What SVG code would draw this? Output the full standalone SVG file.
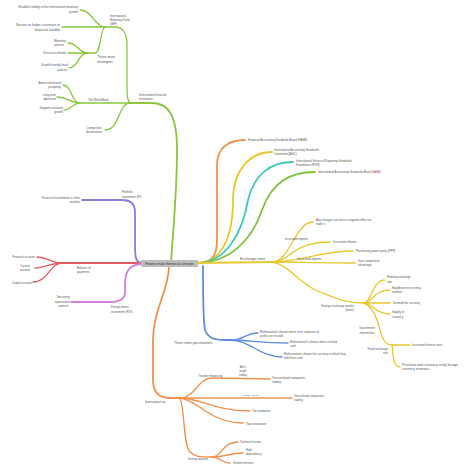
<svg xmlns="http://www.w3.org/2000/svg" width="474" height="472" viewBox="0 0 474 472">
<style>
.t{font-family:"Liberation Sans",Arial,sans-serif;font-size:2.9px;fill:#555}
.b{font-size:3.6px}
.e{text-anchor:end}
.m{text-anchor:middle}
.l{fill:none;stroke-linecap:round;stroke-linejoin:round}
.w1{stroke-width:1.8}
.w2{stroke-width:1.3}
.g{stroke:#8cc63f}.o{stroke:#f0914f}.y{stroke:#e6c930}.c{stroke:#3fc9b6}.bl{stroke:#5b8de0}.p{stroke:#8c7ae0}.r{stroke:#e25c62}.k{stroke:#d67fdc}.g2{stroke:#7fc241}
</style>
<rect width="474" height="472" fill="#fff"/>
<g id="connectors">
<!-- green IFI -->
<path class="l w1 g" d="M171,262 C174,220 177,190 177,150 C177,118 170,103 152,103 L130,103"/>
<path class="l w2 g" d="M130,103 L80,103"/>
<path class="l w2 g" d="M80,103 C71,103 72,85 63,85"/>
<path class="l w2 g" d="M80,103 C70,103 68,97 57,97"/>
<path class="l w2 g" d="M80,103 C72,103 72,110 64,110"/>
<path class="l w2 g" d="M130,103 C118,103 120,130 105,130"/>
<path class="l w2 g" d="M130,103 C127,100 127,95 127,85 L127,45 C127,32 122,27 115,27 L105,27"/>
<path class="l w2 g" d="M105,27 C95,27 92,10 80,10"/>
<path class="l w2 g" d="M105,27 L62,27"/>
<path class="l w2 g" d="M105,27 C100,29 101,53 95,53 L88,53"/>
<path class="l w2 g" d="M88,53 C78,53 78,43 68,43"/>
<path class="l w2 g" d="M88,53 L68,53"/>
<path class="l w2 g" d="M88,53 C78,53 78,68 69,68"/>
<!-- standards -->
<path class="l w1 o" d="M198,263 C212,263 217,255 217,240 L217,165 C217,148 228,140 245,140"/>
<path class="l w1 y" d="M198,263 C220,262 233,240 233,200 C233,170 250,152 272,152"/>
<path class="l w1 c" d="M198,263 C225,262 242,235 248,200 C254,175 270,162 293,162"/>
<path class="l w1 g2" d="M198,263 C230,262 252,240 262,210 C272,182 290,172 315,172"/>
<!-- exchange rates -->
<path class="l w1 y" d="M198,263 L272,262"/>
<path class="l w2 y" d="M272,262 C290,262 295,222 313,222"/>
<path class="l w2 y" d="M272,262 C290,262 292,242 330,242"/>
<path class="l w2 y" d="M272,262 C300,262 320,251 353,251"/>
<path class="l w2 y" d="M272,262 C300,262 310,263 355,263"/>
<path class="l w2 y" d="M272,262 C290,265 300,285 320,292 C335,298 345,303 363,303"/>
<path class="l w2 y" d="M363,303 C372,303 372,280 385,280"/>
<path class="l w2 y" d="M363,303 C373,303 373,290 390,290"/>
<path class="l w2 y" d="M363,303 L390,303"/>
<path class="l w2 y" d="M363,303 C373,303 375,314 390,314"/>
<path class="l w2 y" d="M363,303 C372,305 377,318 380,330 C383,340 385,345 392,345"/>
<path class="l w2 y" d="M392,345 L410,345"/>
<path class="l w2 y" d="M392,345 C393,355 393,367 400,367"/>
<!-- blue -->
<path class="l w1 bl" d="M203,266 C203,300 203,320 205,330 C208,338 214,340 225,340 L230,340"/>
<path class="l w2 bl" d="M230,340 C245,340 245,333 258,333"/>
<path class="l w2 bl" d="M230,340 C250,340 260,343 288,343"/>
<path class="l w2 bl" d="M230,340 C250,340 260,357 282,357"/>
<!-- international tax -->
<path class="l w1 o" d="M169,266 C169,290 153,310 153,340 L153,380 C153,393 160,398 170,398 L180,398"/>
<path class="l w2 o" d="M180,398 C195,398 198,378 212,378 L270,379"/>
<path class="l w2 o" d="M180,398 L292,398"/>
<path class="l w2 o" d="M180,398 C200,398 215,411 250,411"/>
<path class="l w2 o" d="M180,398 C198,400 210,423 243,423"/>
<path class="l w2 o" d="M180,398 C185,410 183,445 190,452 C195,457 200,457 212,457"/>
<path class="l w2 o" d="M212,457 C222,457 222,442 238,442"/>
<path class="l w2 o" d="M212,457 C225,457 230,453 243,453"/>
<path class="l w2 o" d="M212,457 C220,457 222,463 230,463"/>
<!-- left -->
<path class="l w1 p" d="M141,263 C136,262 135,258 135,245 L135,212 C135,203 130,200 122,200 L82,200"/>
<path class="l w1 r" d="M141,263 L62,263"/>
<path class="l w2 r" d="M62,263 C50,263 48,257 37,257"/>
<path class="l w2 r" d="M62,263 C50,263 45,268 35,268"/>
<path class="l w2 r" d="M62,263 C50,263 48,282 33,282"/>
<path class="l w1 k" d="M141,264 C130,265 125,270 125,285 L125,292 C125,300 118,302 110,302 L72,302"/>
</g>
<g id="center"><rect x="141" y="260" width="57" height="7" fill="#bdbdbd"/><text class="t" x="169.5" y="264.6" text-anchor="middle" style="font-size:3.3px;fill:#333">Finance main themes &amp; concepts</text></g>
<g id="ifi"><text class="t" x="139" y="96">International financial</text><text class="t" x="139" y="100">institutions</text></g>
<g id="imf"><text class="t" x="110" y="17">International</text><text class="t" x="110" y="21">Monetary Fund</text><text class="t" x="110" y="25">(IMF)</text></g>
<g id="stability"><text class="t e" x="78" y="8">Establish stability of the international monetary</text><text class="t e" x="78" y="12.5">system</text></g>
<g id="serves"><text class="t b e" x="60" y="26">Serves to helps countries in</text><text class="t b e" x="60" y="31">financial trouble</text></g>
<g id="strategies"><text class="t b" x="97" y="57.5">Three main</text><text class="t b" x="97" y="62.5">strategies</text></g>
<g id="monetary"><text class="t e" x="66" y="42">Monetary</text><text class="t e" x="64" y="46">policies</text></g>
<g id="structural"><text class="t e" x="66" y="54">Structural reforms</text></g>
<g id="growth"><text class="t e" x="68" y="66">Growth friendly fiscal</text><text class="t e" x="67" y="70.5">policies</text></g>
<g id="worldbank"><text class="t" x="88" y="101">The World Bank</text></g>
<g id="advanced"><text class="t e" x="61" y="84">Advanced shared</text><text class="t e" x="61" y="88">prosperity</text></g>
<g id="longterm"><text class="t e" x="56" y="96">Long-term</text><text class="t e" x="56" y="100">objectives</text></g>
<g id="supports"><text class="t e" x="63" y="108.5">Supports inclusive</text><text class="t e" x="63" y="112.5">growth</text></g>
<g id="competitive"><text class="t m" x="94" y="128.5">Competitive</text><text class="t m" x="94" y="132.5">devaluations</text></g>
<g id="fasb"><text class="t" x="248" y="141">Financial Accounting Standards Board (FASB)</text></g>
<g id="iasc"><text class="t" x="274" y="151">International Accounting Standards</text><text class="t" x="274" y="155">Committee(IASC)</text></g>
<g id="ifrs"><text class="t" x="296" y="161.5">International Financial Reporting Standards</text><text class="t" x="296" y="165.5">Foundation (IFRS)</text></g>
<g id="iasb"><text class="t" x="318" y="173">International Accounting Standards Board (IASB)</text></g>
<g id="exchange"><text class="t b" x="240" y="260">Exchange rates</text></g>
<g id="anychanges"><text class="t" x="316" y="221">Any changes can have a negative effect on</text><text class="t" x="316" y="225">trade s</text></g>
<g id="incimports"><text class="t" x="285" y="239.5">Increased imports</text></g>
<g id="inflation"><text class="t" x="333" y="243">Increased inflation</text></g>
<g id="ppp"><text class="t" x="356" y="252">Purchasing power parity (PPP)</text></g>
<g id="decimports"><text class="t" x="297" y="260">Decreased imports</text></g>
<g id="gain"><text class="t" x="358" y="262">Gain competitive</text><text class="t" x="358" y="266">advantage</text></g>
<g id="forex"><text class="t e" x="354" y="307">Foreign exchange market</text><text class="t e" x="354" y="311">(forex)</text></g>
<g id="floating"><text class="t" x="387" y="278">Floating exchange</text><text class="t" x="387" y="282.5">rate</text></g>
<g id="equilibrium"><text class="t" x="392" y="289">Equilibrium in currency</text><text class="t" x="392" y="293">markets</text></g>
<g id="demand"><text class="t" x="393" y="304">Demand for currency</text></g>
<g id="supply"><text class="t" x="392" y="313">Supply of</text><text class="t" x="392" y="317.5">currency</text></g>
<g id="government"><text class="t m" x="367" y="329">Government</text><text class="t m" x="367" y="333.5">intervention</text></g>
<g id="fixed"><text class="t e" x="388" y="350">Fixed exchange</text><text class="t e" x="388" y="354">rate</text></g>
<g id="interest"><text class="t" x="412" y="346">Increased interest rates</text></g>
<g id="purchase"><text class="t" x="402" y="365.5" style="font-size:3.4px">Purchase own currency using foreign</text><text class="t" x="402" y="370" style="font-size:3.4px">currency reserves</text></g>
<g id="peculiarities"><text class="t b" x="212" y="344" text-anchor="end">Three main peculiarities</text></g>
<g id="expenses"><text class="t" x="260" y="332.5">Multinationals choose where their expenses &amp;</text><text class="t" x="260" y="336.5">profits are records</text></g>
<g id="cash"><text class="t" x="290" y="342.5">Multinational's choose where to keep</text><text class="t" x="290" y="346.5">cash</text></g>
<g id="currency"><text class="t" x="284" y="355">Multinationals choose the currency in which they</text><text class="t" x="284" y="359">hold their cash</text></g>
<g id="inttax"><text class="t" x="145" y="403">International tax</text></g>
<g id="mispricing"><text class="t" x="198" y="377">Transfer mispricing</text></g>
<g id="armslength"><text class="t m" x="243" y="368" style="font-size:2.6px">Arm's</text><text class="t m" x="243" y="372" style="font-size:2.6px">length</text><text class="t m" x="243" y="376" style="font-size:2.6px">trading</text></g>
<g id="unrelated"><text class="t" x="272" y="379">Two unrelated companies</text><text class="t" x="272" y="383">trading</text></g>
<g id="pricing"><text class="t" x="243" y="396" style="font-size:2.2px">Transfer pricing</text></g>
<g id="related"><text class="t" x="294" y="397">Two related companies</text><text class="t" x="294" y="401">trading</text></g>
<g id="avoidance"><text class="t" x="252" y="412">Tax avoidance</text></g>
<g id="evasion"><text class="t" x="246" y="424.5" style="font-size:3.8px">Tax evasion</text></g>
<g id="unitary"><text class="t" x="188" y="460">Unitary taxation</text></g>
<g id="technical"><text class="t" x="240" y="443">Technical issues</text></g>
<g id="dependency"><text class="t" x="246" y="451">High</text><text class="t" x="246" y="455">dependency</text></g>
<g id="vested"><text class="t" x="233" y="464">Vested interests</text></g>
<g id="pi"><text class="t" x="122" y="193">Portfolio</text><text class="t" x="122" y="197.5">investment (PI)</text></g>
<g id="investments"><text class="t e" x="80" y="198.5">Financial investments in other</text><text class="t e" x="80" y="202.5">markets</text></g>
<g id="bop"><text class="t" x="77" y="268.5">Balance of</text><text class="t" x="77" y="272.5">payments</text></g>
<g id="financial"><text class="t e" x="35" y="258">Financial account</text></g>
<g id="current"><text class="t m" x="25" y="267">Current</text><text class="t m" x="25" y="271">account</text></g>
<g id="capital"><text class="t e" x="32" y="283.5">Capital account</text></g>
<g id="securing"><text class="t m" x="63" y="298" style="font-size:3.3px">Securing</text><text class="t m" x="63" y="302.5" style="font-size:3.3px">operational</text><text class="t m" x="63" y="307" style="font-size:3.3px">control</text></g>
<g id="fdi"><text class="t" x="111" y="308">Foreign direct</text><text class="t" x="111" y="312.5">investment (FDI)</text></g>
</svg>
